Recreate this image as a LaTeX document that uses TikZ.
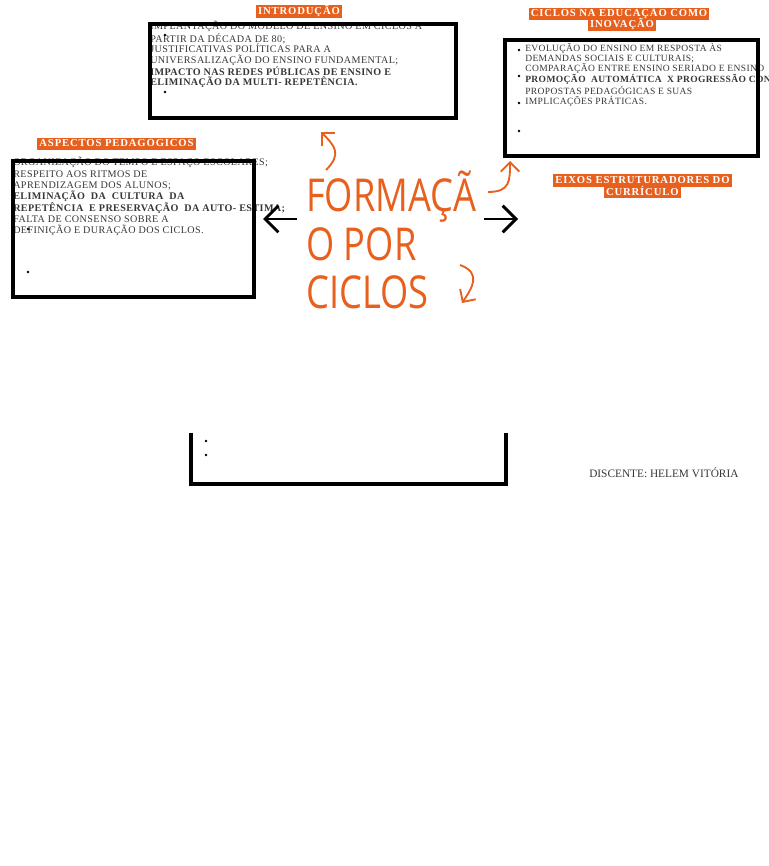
\documentclass[tikz,border=0pt]{standalone}
\usepackage{fontspec}
\setmainfont{Liberation Serif}
\newfontfamily\boxfont[LetterSpace=4]{Liberation Serif}
\newfontfamily\tagfont[LetterSpace=8]{Liberation Serif}
\newfontfamily\titlefont[FakeStretch=0.8]{Open Sans}
\usepackage{tikz}
\usetikzlibrary{positioning}
\usetikzlibrary{fit}
\usetikzlibrary{arrows.meta}
\usepackage{xcolor}
\definecolor{laranja}{RGB}{232,96,30}
\definecolor{cinza}{RGB}{55,55,55}
\tikzset{
	caixa/.style={draw=black, line width=2.3pt, inner sep=0pt},
	rotulo/.style={fill=laranja, text=white, font=\tagfont\bfseries\fontsize{8}{8}\selectfont, inner xsep=1.5pt, inner ysep=0.8pt, text height=6pt, text depth=1.6pt},
	texto/.style={anchor=base west, align=left, inner sep=0pt, text=cinza, font=\boxfont\fontsize{7.6}{#1}\selectfont},
	ponto/.style={fill=black, circle, inner sep=0pt, minimum size=2.2pt},
	seta/.style={line width=2.2pt, -{Straight Barb[length=10pt,width=20pt]}},
	curva/.style={draw=laranja, line width=1.4pt, -{Straight Barb[length=7pt,width=14pt]}}
}

\begin{document}
\begin{tikzpicture}[x=0.75pt, y=-0.75pt]
	\useasboundingbox (0,0) rectangle (768,866);

	% introducao (base = ultima linha)
	\node[rotulo] (tagintro) at (299,11.5) {INTRODUÇÃO};
	\node[texto=7.95pt] (txtintro) at (150,86) {IMPLANTAÇÃO DO MODELO DE ENSINO EM CICLOS A\\PARTIR DA DÉCADA DE 80;\\JUSTIFICATIVAS POLÍTICAS PARA A\\UNIVERSALIZAÇÃO DO ENSINO FUNDAMENTAL;\\\textbf{IMPACTO NAS REDES PÚBLICAS DE ENSINO E}\\\textbf{ELIMINAÇÃO DA MULTI- REPETÊNCIA.}};
	\node[caixa, fit={(150,24) (456,118)}] (boxintro) {};
	\node[ponto] (pi1) at (165,35) {};
	\node[ponto] (pi2) at (165,92) {};

	% ciclos
	\node[rotulo] (tagciclos1) at (619,14) {CICLOS NA EDUCAÇÃO COMO};
	\node[rotulo] (tagciclos2) at (622,25) {INOVAÇÃO};
	\node[texto=7.5pt, font=\boxfont\fontsize{7.15}{7.5}\selectfont] (txtciclos) at (525,104.3) {EVOLUÇÃO DO ENSINO EM RESPOSTA ÀS\\DEMANDAS SOCIAIS E CULTURAIS;\\COMPARAÇÃO ENTRE ENSINO SERIADO E ENSINO\\\textbf{PROMOÇÃO \ AUTOMÁTICA \ X PROGRESSÃO CON}\\PROPOSTAS PEDAGÓGICAS E SUAS\\IMPLICAÇÕES PRÁTICAS.};
	\node[caixa, fit={(505,40) (758,156)}] (boxciclos) {};
	\foreach \y [count=\i] in {50,76,103,131}
		\node[ponto] (pc\i) at (519,\y) {};

	% aspectos
	\node[rotulo] (tagaspectos) at (116.5,144) {ASPECTOS PEDAGÓGICOS};
	\node[texto=8.5pt] (txtaspectos) at (13,233.8) {ORGANIZAÇÃO DO TEMPO E ESPAÇO ESCOLARES;\\RESPEITO AOS RITMOS DE\\APRENDIZAGEM DOS ALUNOS;\\\textbf{ELIMINAÇÃO \ DA \ CULTURA \ DA}\\\textbf{REPETÊNCIA \ E PRESERVAÇÃO \ DA AUTO- ESTIMA;}\\FALTA DE CONSENSO SOBRE A\\DEFINIÇÃO E DURAÇÃO DOS CICLOS.};
	\node[caixa, fit={(13,161) (254,297)}] (boxaspectos) {};
	\node[ponto] (pa1) at (28,229) {};
	\node[ponto] (pa2) at (28,272) {};

	% eixos
	\node[rotulo] (tageixos1) at (642.5,180.5) {EIXOS ESTRUTURADORES DO};
	\node[rotulo] (tageixos2) at (642.3,192.3) {CURRÍCULO};
	\draw[line width=2.3pt] (191,433) -- (191,484) -- (506,484) -- (506,433);
	\node[ponto] (pe1) at (206,441) {};
	\node[ponto] (pe2) at (206,455) {};

	% titulo
	\node[anchor=base west, align=left, inner sep=0pt, text=laranja, font=\titlefont\fontsize{34}{36.2}\selectfont] (titulo) at (306,308.3) {FORMAÇÃ\\O POR\\CICLOS};

	\coordinate (esq0) at (297,219);
	\coordinate (esq1) at (263,219);
	\coordinate (dir0) at (484,219);
	\coordinate (dir1) at (518,219);
	\draw[seta] (esq0) -- (esq1);
	\draw[seta] (dir0) -- (dir1);

	\coordinate (c1a) at (326,170);
	\coordinate (c1b) at (321,132);
	\coordinate (c2a) at (488,192);
	\coordinate (c2b) at (510,161);
	\coordinate (c3a) at (460,265);
	\coordinate (c3b) at (462,303);
	\draw[curva] (c1a) .. controls +(16,-16) and +(14,14) .. (c1b);
	\draw[curva] (c2a) .. controls +(22,0) and +(0,20) .. (c2b);
	\draw[curva] (c3a) .. controls +(22,8) and +(10,-15) .. (c3b);

	\node[anchor=base west, inner sep=0pt, text=cinza, font=\fontsize{8.5}{10}\selectfont] (discente) at (589,477) {DISCENTE: HELEM VITÓRIA};
\end{tikzpicture}
\end{document}
